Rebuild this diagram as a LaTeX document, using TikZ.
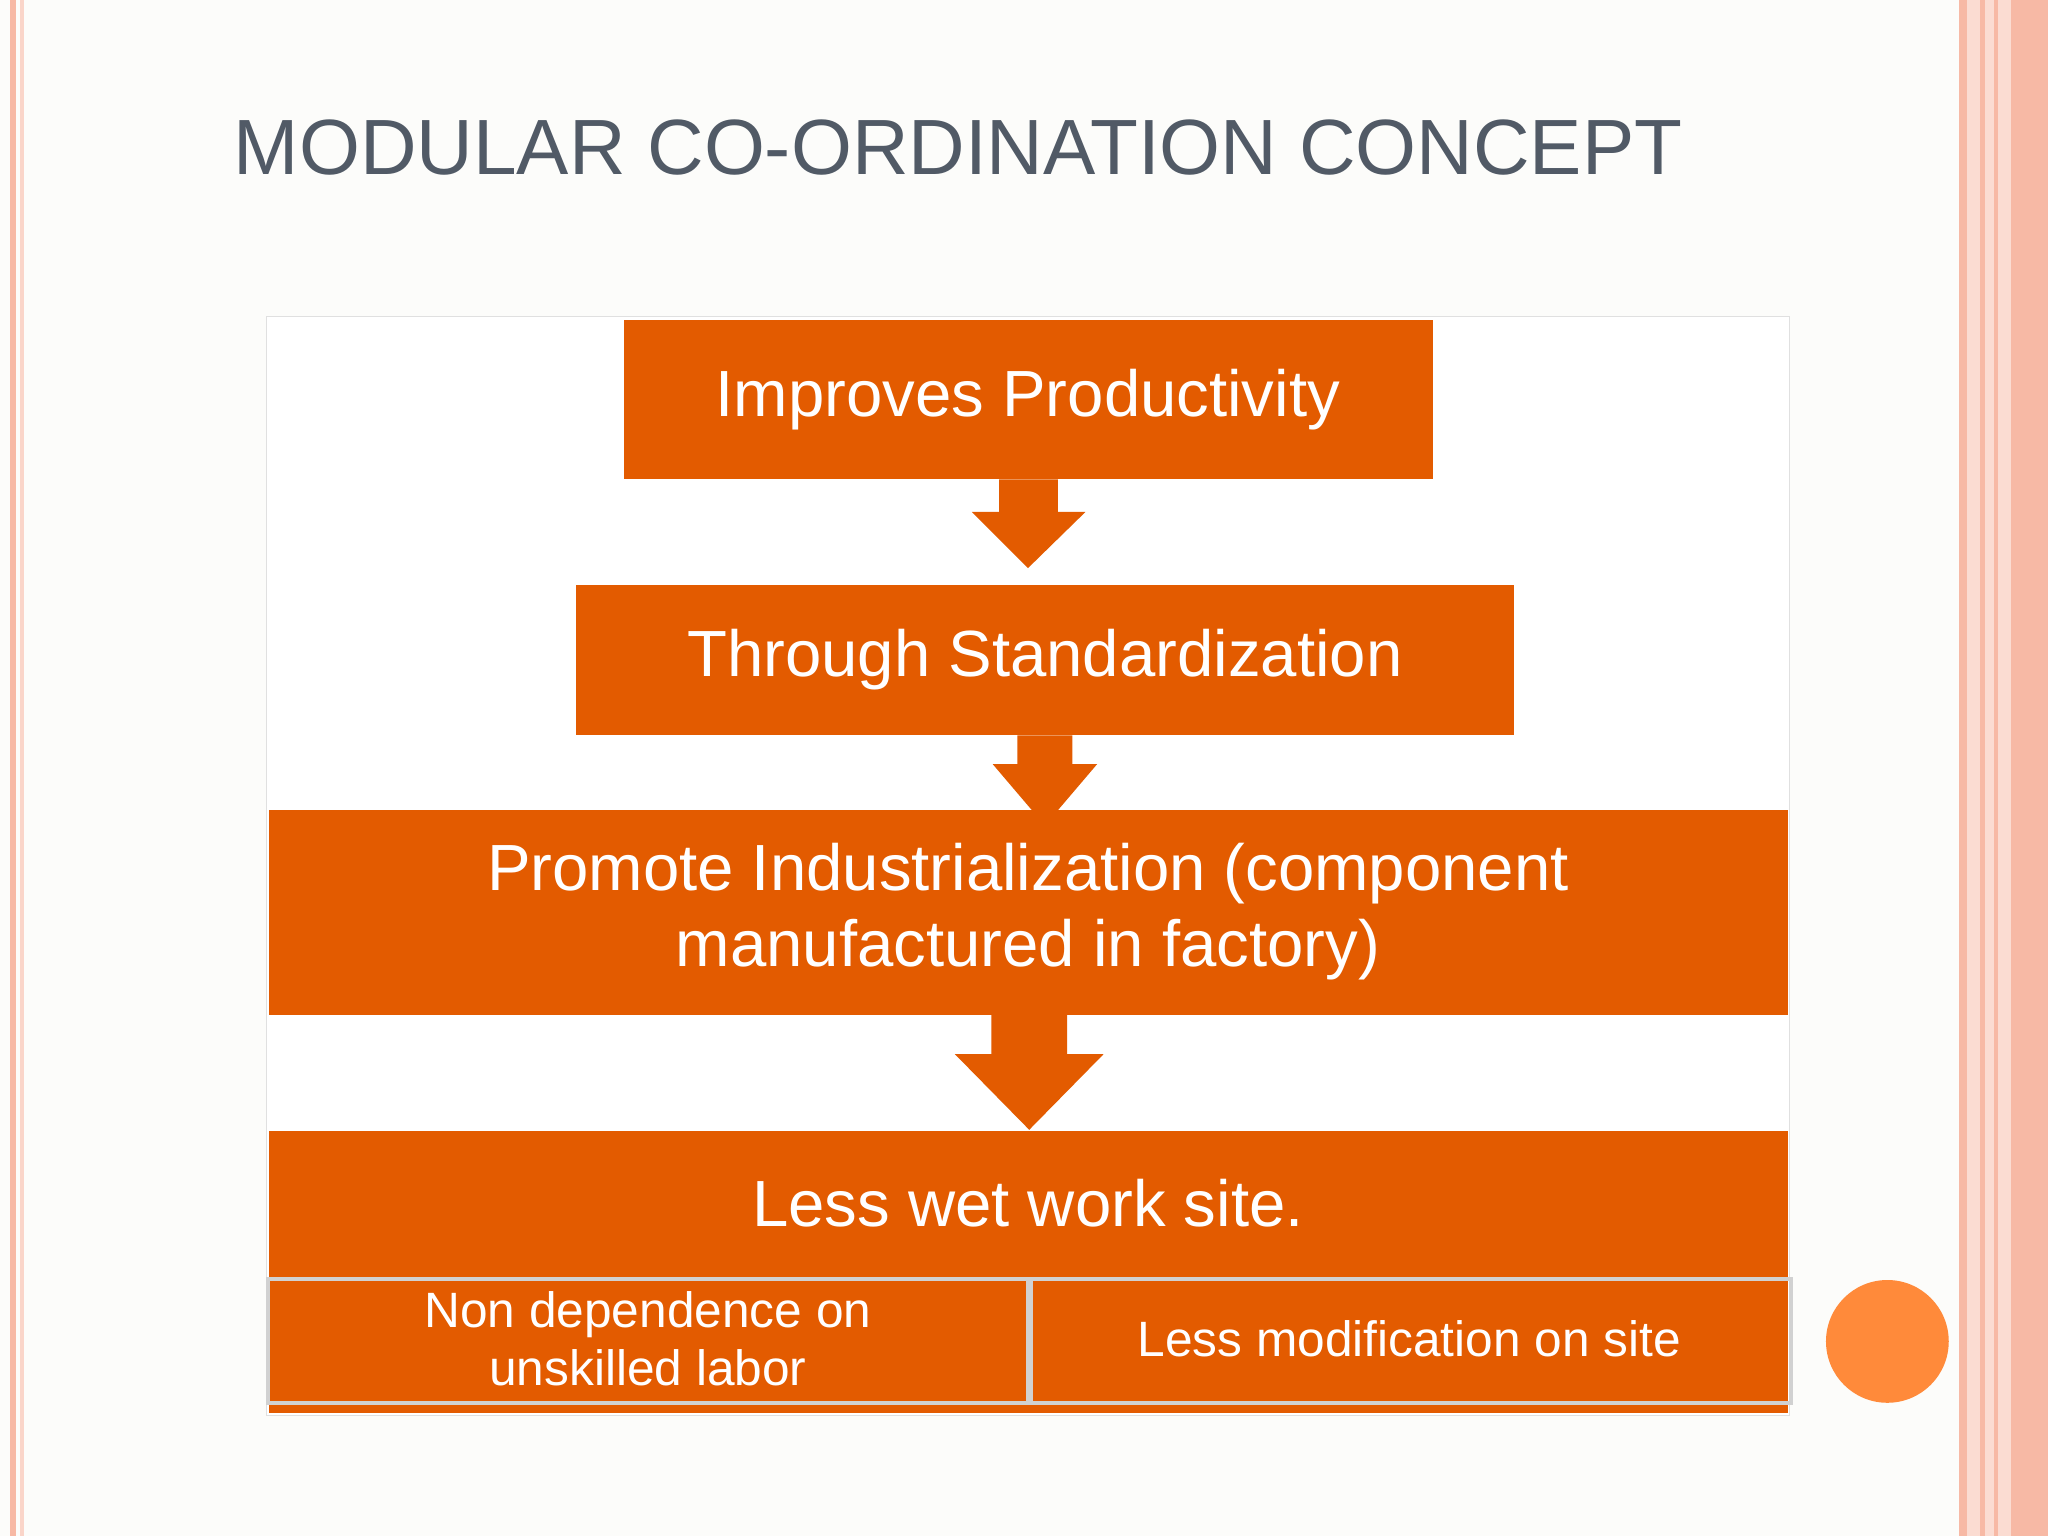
\documentclass[tikz,border=0pt]{standalone}
\usepackage{fontspec}
\setmainfont{Liberation Sans}
\begin{document}
\begin{tikzpicture}[x=0.5pt,y=-0.5pt,
  ob/.style={fill=orgc,draw=none},
  txt/.style={text=white,align=center,font=\fontsize{25}{29}\selectfont},
  stxt/.style={text=white,align=center,font=\fontsize{19}{22}\selectfont}]
\definecolor{orgc}{HTML}{E35B00}
\definecolor{bgc}{HTML}{FCFCFA}
\definecolor{pinkc}{HTML}{F7B9A5}
\definecolor{titc}{HTML}{515A66}
\definecolor{circc}{HTML}{FF8A3A}
\useasboundingbox (0,0) rectangle (1568,1176);
\fill[bgc] (0,0) rectangle (1568,1176);
% left border
\fill[pinkc] (8,0) rectangle (12,1176);
\fill[pinkc!60] (15,0) rectangle (18,1176);
% right band
\fill[pinkc!50] (1500,0) rectangle (1568,1176);
\fill[pinkc] (1500,0) rectangle (1506,1176);
\fill[pinkc] (1516,0) rectangle (1520,1176);
\fill[pinkc] (1527,0) rectangle (1530,1176);
\fill[pinkc] (1540,0) rectangle (1568,1176);
\node[anchor=west,text=titc,font=\fontsize{30}{34}\selectfont] (title) at (172,113) {MODULAR CO-ORDINATION CONCEPT};
% panel
\draw[fill=white,draw=black!12] (204,242) rectangle (1370,1084);
% boxes
\fill[ob] (478,245) rectangle (1097,367);
\node[txt] (b1) at (787,306) {Improves Productivity};
\fill[ob] (441,448) rectangle (1159,563);
\node[txt] (b2) at (800,505) {Through Standardization};
\fill[ob] (206,620) rectangle (1369,777);
\node[txt] (b3) at (787,698) {Promote Industrialization (component\\manufactured in factory)};
\fill[ob] (206,866) rectangle (1369,977);
\node[txt] (b4) at (787,921) {Less wet work site.};
% arrows
\fill[ob] (765,367) -- (810,367) -- (810,392) -- (831,392) -- (787,435) -- (744,392) -- (765,392) -- cycle;
\fill[ob] (779,563) -- (821,563) -- (821,585) -- (840,585) -- (800,632) -- (760,585) -- (779,585) -- cycle;
\fill[ob] (759,777) -- (817,777) -- (817,807) -- (845,807) -- (788,865) -- (731,807) -- (759,807) -- cycle;
% bottom
\fill[ob] (206,977) rectangle (1369,1082);
\draw[black!18,line width=1.5pt] (205,979) rectangle (787,1074);
\draw[black!18,line width=1.5pt] (789,979) rectangle (1371,1074);
\node[stxt] (b5) at (496,1025) {Non dependence on\\unskilled labor};
\node[stxt] (b6) at (1079,1025) {Less modification on site};
\fill[circc] (1445,1027) circle (47);
\end{tikzpicture}
\end{document}
